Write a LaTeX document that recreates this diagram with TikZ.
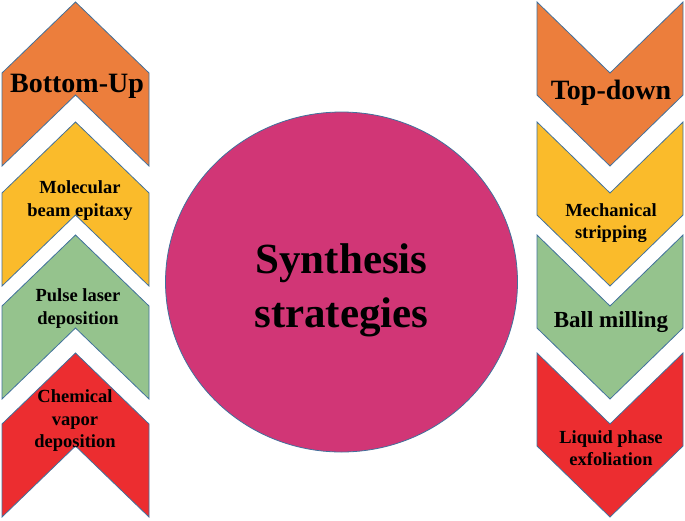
\documentclass[tikz,border=0pt]{standalone}
\usepackage{fontspec}
\setmainfont{Liberation Serif}
\usetikzlibrary{shapes.geometric}
\definecolor{edgeblue}{HTML}{41719C}
\definecolor{chevorange}{HTML}{EC7E3C}
\definecolor{chevyellow}{HTML}{FABB2B}
\definecolor{chevgreen}{HTML}{95C38D}
\definecolor{chevred}{HTML}{EC2D30}
\definecolor{hubmagenta}{HTML}{D13676}

\begin{document}
\begin{tikzpicture}[
  x=1pt,y=-1pt,
  chev/.style={draw=edgeblue,line width=.8pt,line join=miter},
  head/.style={font=\bfseries\fontsize{28}{34}\selectfont,align=center},
  lbl/.style={font=\bfseries\fontsize{18.5}{22.5}\selectfont,align=center},
  hub/.style={ellipse,draw=edgeblue,fill=hubmagenta,line width=.8pt,inner sep=0pt,
    minimum width=352pt,minimum height=340pt}
]
\useasboundingbox (0,0) rectangle (685,520);
% bottom-up chevrons (pointing up)
\foreach \ty/\col in {2/chevorange,122/chevyellow,235/chevgreen,353/chevred}
  \filldraw[chev,fill=\col] (75.5,\ty) -- ++(73.5,71) -- ++(0,93) -- ++(-73.5,-71)
    -- ++(-73.5,71) -- ++(0,-93) -- cycle;
% top-down chevrons (pointing down)
\foreach \ty/\col in {2/chevorange,122/chevyellow,235/chevgreen,353/chevred}
  \filldraw[chev,fill=\col] (537,\ty) -- ++(73,71) -- ++(73,-71) -- ++(0,93)
    -- ++(-73,71) -- ++(-73,-71) -- cycle;
\node[hub] (synth) at (341.5,282) {};
\node[align=center,font=\bfseries\fontsize{43}{54}\selectfont] (synthtext) at (341.5,290)
  {Synthesis\\strategies};
\node[head] (bottomup) at (77,86) {Bottom-Up};
\node[lbl] (mbe) at (80,200.5) {Molecular\\beam epitaxy};
\node[lbl] (pld) at (78,308.5) {Pulse laser\\deposition};
\node[lbl] (cvd) at (75,421) {Chemical\\vapor\\deposition};
\node[head] (topdown) at (611,92.5) {Top-down};
\node[lbl] (mech) at (611,223) {Mechanical\\stripping};
\node[lbl,font=\bfseries\fontsize{23}{27}\selectfont] (ball) at (611,322) {Ball milling};
\node[lbl] (lpe) at (611,448) {Liquid phase\\exfoliation};
\end{tikzpicture}
\end{document}
